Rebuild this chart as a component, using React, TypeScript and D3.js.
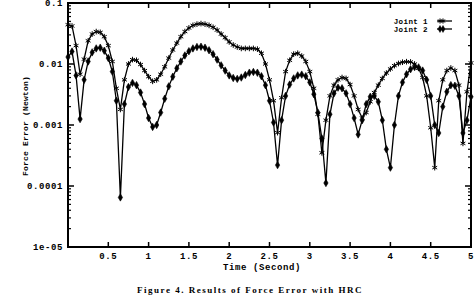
import React, { useEffect, useRef } from 'react';
import * as d3 from 'd3';

// sample times (s)
const times = d3.range(0, 101).map((i) => +(i * 0.05).toFixed(2));

const joint1 = [
  0.044, 0.042, 0.020, 0.0068, 0.012, 0.024, 0.031, 0.034, 0.033, 0.028,
  0.020, 0.011, 0.004, 0.0018, 0.0055, 0.010, 0.0118, 0.0115, 0.0098, 0.0078,
  0.0062, 0.0052, 0.0055, 0.0068, 0.009, 0.0125, 0.017, 0.022, 0.028, 0.034,
  0.039, 0.043, 0.045, 0.046, 0.045, 0.043, 0.040, 0.036, 0.031, 0.027,
  0.023, 0.0205, 0.019, 0.018, 0.018, 0.018, 0.018, 0.0175, 0.015, 0.010,
  0.0055, 0.0025, 0.00075, 0.0028, 0.0075, 0.0115, 0.0145, 0.015, 0.0135, 0.011,
  0.0075, 0.004, 0.0015, 0.00035, 0.0012, 0.003, 0.0045, 0.0055, 0.006, 0.0058,
  0.0046, 0.003, 0.0018, 0.0013, 0.0016, 0.0024, 0.0034, 0.0045, 0.0058, 0.0071,
  0.0083, 0.0094, 0.0102, 0.0107, 0.0109, 0.0108, 0.010, 0.0085, 0.006, 0.003,
  0.0009, 0.0002, 0.0025, 0.0055, 0.0078, 0.0086, 0.0078, 0.0045, 0.0005, 0.0035,
  0.0104,
];

const joint2 = [
  0.013, 0.016, 0.0065, 0.00125, 0.0055, 0.011, 0.0155, 0.018, 0.0185, 0.0165,
  0.0125, 0.0075, 0.0025, 0.000065, 0.0022, 0.0042, 0.0049, 0.0045, 0.0034, 0.0022,
  0.0013, 0.00093, 0.001, 0.0016, 0.0027, 0.0043, 0.0062, 0.0085, 0.011, 0.0138,
  0.0162, 0.018, 0.019, 0.0192, 0.0185, 0.0168, 0.0145, 0.0118, 0.0095, 0.0078,
  0.0065, 0.0059, 0.0057, 0.006, 0.0066, 0.0072, 0.0074, 0.0072, 0.0063, 0.0045,
  0.0025, 0.0011, 0.00022, 0.0012, 0.003, 0.0046, 0.0058, 0.0065, 0.0067, 0.0063,
  0.005, 0.0032, 0.0016, 0.0006, 0.000112, 0.0015, 0.0033, 0.0041, 0.004, 0.0033,
  0.0022, 0.0013, 0.0007, 0.0012, 0.0022, 0.0029, 0.003, 0.0024, 0.0012, 0.0004,
  0.0002, 0.001, 0.003, 0.005, 0.0068, 0.0082, 0.0089, 0.0088, 0.0078, 0.0055,
  0.003, 0.001, 0.00074, 0.002, 0.0035, 0.0045, 0.0044, 0.003, 0.00074, 0.0012,
  0.0029,
];

const xTicks = [0.5, 1, 1.5, 2, 2.5, 3, 3.5, 4, 4.5, 5];
const yTicks = [0.1, 0.01, 0.001, 0.0001, 0.00001];
const yTickLabels = ['0.1', '0.01', '0.001', '0.0001', '1e-05'];
const seriesNames = ['Joint 1', 'Joint 2'];

const W = 474;
const H = 295;
const FONT = '"Liberation Mono", "DejaVu Sans Mono", monospace';

export default function App() {
  const ref = useRef<SVGSVGElement>(null);

  useEffect(() => {
    const svg = d3.select(ref.current);
    svg.selectAll('*').remove();

    const left = 68, right = 471, top = 3, bottom = 247;
    const x = d3.scaleLinear().domain([0, 5]).range([left, right]);
    const y = d3.scaleLog().domain([0.00001, 0.1]).range([bottom, top]);

    svg.append('rect').attr('width', W).attr('height', H).attr('fill', '#fff');

    // minor log ticks
    const minor: number[] = [];
    for (let e = -5; e < -1; e++) {
      for (let k = 2; k <= 9; k++) minor.push(k * Math.pow(10, e));
    }
    const g = svg.append('g').attr('stroke', '#000');
    minor.forEach((v) => {
      g.append('line').attr('x1', left).attr('x2', left + 3).attr('y1', y(v)).attr('y2', y(v)).attr('stroke-width', 1.2);
      g.append('line').attr('x1', right).attr('x2', right - 3).attr('y1', y(v)).attr('y2', y(v)).attr('stroke-width', 1.2);
    });
    yTicks.forEach((v) => {
      g.append('line').attr('x1', left).attr('x2', left + 6).attr('y1', y(v)).attr('y2', y(v)).attr('stroke-width', 1.5);
      g.append('line').attr('x1', right).attr('x2', right - 6).attr('y1', y(v)).attr('y2', y(v)).attr('stroke-width', 1.5);
    });
    xTicks.forEach((v) => {
      g.append('line').attr('x1', x(v)).attr('x2', x(v)).attr('y1', bottom).attr('y2', bottom - 5).attr('stroke-width', 1.5);
      g.append('line').attr('x1', x(v)).attr('x2', x(v)).attr('y1', top).attr('y2', top + 5).attr('stroke-width', 1.5);
    });

    svg.append('rect')
      .attr('x', left).attr('y', top)
      .attr('width', right - left).attr('height', bottom - top)
      .attr('fill', 'none').attr('stroke', '#000').attr('stroke-width', 2);

    // tick labels
    svg.append('g').selectAll('text').data(yTicks).enter().append('text')
      .attr('x', left - 5).attr('y', (d) => y(d) + 3)
      .attr('text-anchor', 'end')
      .attr('font-family', FONT).attr('font-weight', 'bold').attr('font-size', 9)
      .attr('letter-spacing', 0.6)
      .text((d, i) => yTickLabels[i]);

    svg.append('g').selectAll('text').data(xTicks).enter().append('text')
      .attr('x', (d) => x(d)).attr('y', bottom + 12)
      .attr('text-anchor', 'middle')
      .attr('font-family', FONT).attr('font-weight', 'bold').attr('font-size', 9)
      .attr('letter-spacing', 0.6)
      .text((d) => String(d));

    svg.append('text')
      .attr('x', 262).attr('y', 270)
      .attr('text-anchor', 'middle')
      .attr('font-family', FONT).attr('font-weight', 'bold').attr('font-size', 9)
      .attr('letter-spacing', 0.6)
      .text('Time (Second)');

    svg.append('text')
      .attr('transform', 'translate(28,126) rotate(-90)')
      .attr('text-anchor', 'middle')
      .attr('font-family', FONT).attr('font-weight', 'bold').attr('font-size', 8)
      .attr('letter-spacing', 0.2)
      .text('Force Error (Newton)');

    // series
    const line = d3.line<number>()
      .x((d, i) => x(times[i]))
      .y((d) => y(d));

    const plot = svg.append('g');
    [joint1, joint2].forEach((vals, si) => {
      plot.append('path')
        .attr('d', line(vals))
        .attr('fill', 'none').attr('stroke', '#000').attr('stroke-width', 1.3);
      const sym = si === 0
        ? d3.symbol().type(d3.symbolAsterisk).size(22)
        : d3.symbol().type(d3.symbolDiamond).size(16);
      plot.append('g').selectAll('path').data(vals).enter().append('path')
        .attr('transform', (d, i) => `translate(${x(times[i])},${y(d)})`)
        .attr('d', sym())
        .attr('fill', si === 0 ? 'none' : '#000')
        .attr('stroke', '#000').attr('stroke-width', si === 0 ? 1 : 0.6);
    });

    // legend
    const leg = svg.append('g');
    seriesNames.forEach((name, i) => {
      const ly = 21 + i * 8;
      leg.append('text')
        .attr('x', 428).attr('y', ly + 2.5)
        .attr('text-anchor', 'end')
        .attr('font-family', FONT).attr('font-weight', 'bold').attr('font-size', 7.5)
        .attr('letter-spacing', 0.4)
        .text(name);
      leg.append('line').attr('x1', 437).attr('x2', 452).attr('y1', ly).attr('y2', ly)
        .attr('stroke', '#000').attr('stroke-width', 1.3);
      const sym = i === 0
        ? d3.symbol().type(d3.symbolAsterisk).size(18)
        : d3.symbol().type(d3.symbolDiamond).size(14);
      [440, 443].forEach((mx) => {
        leg.append('path')
          .attr('transform', `translate(${mx},${ly})`)
          .attr('d', sym())
          .attr('fill', i === 0 ? 'none' : '#000')
          .attr('stroke', '#000').attr('stroke-width', i === 0 ? 1 : 0.5);
      });
    });

    // caption
    svg.append('text')
      .attr('x', 250).attr('y', 293)
      .attr('text-anchor', 'middle')
      .attr('font-family', '"Liberation Serif", serif').attr('font-weight', 'bold').attr('font-size', 9)
      .attr('letter-spacing', 1.5)
      .text('Figure 4. Results of Force Error with HRC');
  }, []);

  return (
    <svg ref={ref} width={W} height={H}
      style={{ position: 'absolute', left: 0, top: 0, display: 'block' }} />
  );
}
